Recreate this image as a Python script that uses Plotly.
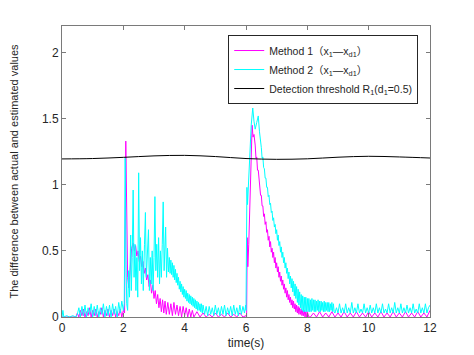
import plotly.graph_objects as go

# ---------------- data ----------------
# Method 1 (magenta): (time s, value)
M1_QUIET = [(0, 0), (0.45, 0), (0.5, 0.03), (0.55, 0), (0.6, 0.05), (0.65, 0.01), (0.7, 0.06),
            (0.75, 0), (0.8, 0.04), (0.85, 0.01), (0.9, 0.07), (0.95, 0), (1.0, 0.05), (1.05, 0.01),
            (1.1, 0.06), (1.15, 0), (1.2, 0.04), (1.25, 0.02), (1.3, 0.07), (1.35, 0), (1.4, 0.05),
            (1.45, 0.01), (1.5, 0.06), (1.55, 0), (1.6, 0.05), (1.65, 0.01), (1.7, 0.06), (1.75, 0),
            (1.8, 0.04), (1.85, 0.01), (1.9, 0.06), (1.95, 0), (2.0, 0.05)]
M1_FAULT1 = [(2.04, 0.03), (2.08, 1.33), (2.11, 0.7), (2.14, 0.3), (2.18, 0.22), (2.22, 0.4),
             (2.27, 0.52), (2.32, 0.56), (2.36, 0.5), (2.4, 0.54), (2.44, 0.46), (2.48, 0.5),
             (2.52, 0.42), (2.56, 0.46), (2.6, 0.38), (2.64, 0.42), (2.68, 0.33), (2.72, 0.37),
             (2.76, 0.28), (2.8, 0.32), (2.84, 0.23), (2.88, 0.28), (2.92, 0.18), (2.96, 0.24),
             (3.0, 0.14), (3.04, 0.2), (3.08, 0.1), (3.12, 0.17), (3.16, 0.07), (3.2, 0.14),
             (3.24, 0.04), (3.28, 0.13), (3.32, 0.03), (3.36, 0.12), (3.4, 0.02), (3.45, 0.11),
             (3.5, 0.02), (3.55, 0.1), (3.6, 0.01), (3.65, 0.11), (3.7, 0.02), (3.75, 0.09),
             (3.8, 0.01), (3.85, 0.08), (3.9, 0), (3.95, 0.08), (4.0, 0.01), (4.05, 0.07),
             (4.1, 0), (4.15, 0.06), (4.2, 0), (4.25, 0.05), (4.3, 0), (4.4, 0.04), (4.5, 0),
             (4.6, 0.03), (4.7, 0), (4.8, 0.02), (4.9, 0), (5.0, 0.03), (5.1, 0), (5.2, 0.02),
             (5.3, 0), (5.4, 0.03), (5.5, 0), (5.6, 0.02), (5.7, 0), (5.8, 0.03), (5.9, 0), (6.0, 0.01)]
M1_FAULT2 = [(6.02, 0), (6.04, 0.6), (6.06, 0.38), (6.09, 0.55), (6.13, 0.95), (6.17, 1.3),
             (6.2, 1.45), (6.23, 1.36), (6.26, 1.38), (6.3, 1.3), (6.325, 1.2),
             (6.35, 1.21), (6.375, 1.11), (6.4, 1.11), (6.425, 1.02), (6.45, 1.01), (6.475, 0.92),
             (6.5, 0.92), (6.525, 0.84), (6.55, 0.84), (6.575, 0.76), (6.6, 0.78), (6.625, 0.7),
             (6.65, 0.72), (6.675, 0.64), (6.7, 0.66), (6.725, 0.58), (6.75, 0.61), (6.775, 0.53),
             (6.8, 0.57), (6.825, 0.49), (6.85, 0.52), (6.875, 0.45), (6.9, 0.49), (6.925, 0.41),
             (6.95, 0.45), (6.975, 0.37), (7.0, 0.41), (7.025, 0.34), (7.05, 0.38), (7.075, 0.3),
             (7.1, 0.34), (7.125, 0.27), (7.15, 0.31), (7.175, 0.24), (7.2, 0.28), (7.225, 0.21),
             (7.25, 0.25), (7.275, 0.18), (7.3, 0.22), (7.325, 0.15), (7.35, 0.2), (7.375, 0.13),
             (7.4, 0.17), (7.425, 0.11), (7.45, 0.15), (7.475, 0.09), (7.5, 0.13), (7.525, 0.07),
             (7.55, 0.12), (7.575, 0.06), (7.6, 0.1), (7.625, 0.04), (7.65, 0.09), (7.675, 0.03),
             (7.7, 0.08), (7.725, 0.02), (7.75, 0.07), (7.775, 0.02), (7.8, 0.06), (7.825, 0.01),
             (7.85, 0.05), (7.875, 0.01), (7.9, 0.05), (7.925, 0), (7.95, 0.04), (7.975, 0),
             (8.0, 0.04), (8.05, 0)]
M1_TAIL = [(8.1, 0), (8.2, 0.03), (8.3, 0), (8.4, 0.04), (8.5, 0), (8.6, 0.03), (8.7, 0), (8.8, 0.04),
           (8.9, 0), (9.0, 0.03), (9.1, 0), (9.2, 0.04), (9.3, 0), (9.4, 0.03), (9.5, 0), (9.6, 0.04),
           (9.7, 0), (9.8, 0.03), (9.9, 0), (10.0, 0.04), (10.1, 0), (10.2, 0.03), (10.3, 0),
           (10.4, 0.04), (10.5, 0), (10.6, 0.03), (10.7, 0), (10.8, 0.04), (10.9, 0), (11.0, 0.03),
           (11.1, 0), (11.2, 0.04), (11.3, 0), (11.4, 0.03), (11.5, 0), (11.6, 0.04), (11.7, 0),
           (11.8, 0.03), (11.9, 0), (12.0, 0.05)]

# Method 2 (cyan): (time s, value)
M2_QUIET = [(0, 0), (0.03, 0.05), (0.06, 0), (0.15, 0.01), (0.25, 0), (0.35, 0.01), (0.45, 0),
            (0.5, 0.02), (0.55, 0.07), (0.6, 0), (0.65, 0.08), (0.7, 0.01), (0.75, 0.09), (0.8, 0),
            (0.85, 0.07), (0.9, 0.02), (0.95, 0.1), (1.0, 0), (1.05, 0.08), (1.1, 0.01), (1.15, 0.09),
            (1.2, 0), (1.25, 0.07), (1.3, 0.02), (1.35, 0.1), (1.4, 0), (1.45, 0.08), (1.5, 0.01),
            (1.55, 0.09), (1.6, 0), (1.65, 0.1), (1.7, 0.02), (1.75, 0.08), (1.8, 0), (1.85, 0.11),
            (1.9, 0.03), (1.95, 0.12), (2.0, 0.05), (2.03, 0.1)]
M2_FAULT1 = [(2.06, 1.2), (2.09, 0.4), (2.11, 0.1), (2.14, 0.05), (2.17, 0.35), (2.2, 0.15),
             (2.24, 0.62), (2.26, 0.2), (2.29, 0.45), (2.32, 0.96), (2.35, 0.3), (2.38, 0.55),
             (2.41, 0.2), (2.44, 0.45), (2.47, 0.15), (2.5, 1.09), (2.53, 0.35), (2.56, 0.6),
             (2.59, 0.25), (2.62, 0.5), (2.65, 0.2), (2.69, 0.55), (2.72, 0.79), (2.75, 0.3),
             (2.78, 0.5), (2.82, 0.66), (2.85, 0.2), (2.88, 0.45), (2.91, 0.25), (2.94, 0.5),
             (2.97, 0.2), (3.0, 0.45), (3.03, 0.91), (3.06, 0.35), (3.09, 0.55), (3.12, 0.3),
             (3.15, 0.6), (3.18, 0.25), (3.21, 0.5), (3.24, 0.3), (3.27, 0.55), (3.3, 0.87),
             (3.33, 0.35), (3.36, 0.55), (3.38, 0.68), (3.41, 0.3), (3.44, 0.52), (3.47, 0.34),
             (3.5, 0.45), (3.525, 0.33), (3.55, 0.43), (3.575, 0.32), (3.6, 0.41), (3.625, 0.3),
             (3.65, 0.39), (3.675, 0.28), (3.7, 0.36), (3.725, 0.26), (3.75, 0.33), (3.775, 0.24),
             (3.8, 0.3), (3.825, 0.21), (3.85, 0.27), (3.875, 0.19), (3.9, 0.25), (3.925, 0.17),
             (3.95, 0.23), (3.975, 0.15), (4.0, 0.21), (4.025, 0.14), (4.05, 0.2), (4.075, 0.12),
             (4.1, 0.18), (4.125, 0.11), (4.15, 0.17), (4.175, 0.1), (4.2, 0.16), (4.225, 0.09),
             (4.25, 0.15), (4.275, 0.08), (4.3, 0.14), (4.325, 0.07), (4.35, 0.13), (4.375, 0.06),
             (4.4, 0.12), (4.425, 0.05), (4.45, 0.11), (4.475, 0.05), (4.5, 0.1), (4.525, 0.04),
             (4.55, 0.1), (4.575, 0.03), (4.6, 0.09), (4.65, 0.02), (4.7, 0.08), (4.75, 0.01),
             (4.8, 0.08), (4.85, 0.02), (4.9, 0.07), (4.95, 0.01), (5.0, 0.09), (5.05, 0.02),
             (5.1, 0.07), (5.15, 0.01), (5.2, 0.08), (5.25, 0.02), (5.3, 0.09), (5.35, 0.01),
             (5.4, 0.07), (5.45, 0.02), (5.5, 0.08), (5.55, 0.01), (5.6, 0.09), (5.65, 0.02),
             (5.7, 0.07), (5.75, 0.01), (5.8, 0.09), (5.85, 0.02), (5.9, 0.08), (5.95, 0.03),
             (5.99, 0.09)]
M2_FAULT2 = [(6.0, 0.05), (6.01, 0.6), (6.03, 0.98), (6.05, 0.85), (6.08, 1.05), (6.12, 1.2),
             (6.17, 1.45), (6.22, 1.58), (6.26, 1.48), (6.3, 1.42), (6.35, 1.47), (6.4, 1.52),
             (6.44, 1.4), (6.47, 1.3),
             (6.5, 1.28), (6.525, 1.2), (6.55, 1.21), (6.575, 1.13), (6.6, 1.12), (6.625, 1.05),
             (6.65, 1.05), (6.675, 0.98), (6.7, 0.98), (6.725, 0.91), (6.75, 0.92), (6.775, 0.85),
             (6.8, 0.86), (6.825, 0.79), (6.85, 0.8), (6.875, 0.73), (6.9, 0.75), (6.925, 0.68),
             (6.95, 0.7), (6.975, 0.63), (7.0, 0.66), (7.025, 0.58), (7.05, 0.62), (7.075, 0.54),
             (7.1, 0.57), (7.125, 0.49), (7.15, 0.53), (7.175, 0.45), (7.2, 0.49), (7.225, 0.41),
             (7.25, 0.45), (7.275, 0.37), (7.3, 0.41), (7.325, 0.33), (7.35, 0.37), (7.375, 0.29),
             (7.4, 0.34), (7.425, 0.25), (7.45, 0.31), (7.475, 0.22), (7.5, 0.29), (7.525, 0.19),
             (7.55, 0.27), (7.575, 0.16), (7.6, 0.25), (7.625, 0.14), (7.65, 0.23), (7.675, 0.11),
             (7.7, 0.21), (7.725, 0.09), (7.75, 0.19), (7.775, 0.07), (7.8, 0.17), (7.825, 0.05),
             (7.85, 0.16), (7.875, 0.04), (7.9, 0.15), (7.925, 0.04), (7.95, 0.15), (7.975, 0.04),
             (8.0, 0.14), (8.025, 0.04), (8.05, 0.14), (8.075, 0.04), (8.1, 0.13), (8.125, 0.04),
             (8.15, 0.14), (8.175, 0.05), (8.2, 0.13), (8.225, 0.04), (8.25, 0.13), (8.275, 0.04),
             (8.3, 0.12), (8.325, 0.05), (8.35, 0.13), (8.375, 0.04), (8.4, 0.12), (8.425, 0.04),
             (8.45, 0.12), (8.475, 0.05), (8.5, 0.11), (8.525, 0.04), (8.55, 0.12), (8.575, 0.04),
             (8.6, 0.11), (8.625, 0.05), (8.65, 0.11), (8.675, 0.04), (8.7, 0.11), (8.725, 0.04),
             (8.75, 0.1), (8.775, 0.05), (8.8, 0.11), (8.825, 0.04), (8.85, 0.1), (8.875, 0.04)]
M2_TAIL = [(8.9, 0.03), (8.95, 0.07), (9.0, 0.03), (9.05, 0.1), (9.1, 0.03), (9.15, 0.07),
           (9.2, 0.03), (9.25, 0.1), (9.3, 0.03), (9.35, 0.07), (9.4, 0.03), (9.45, 0.11),
           (9.5, 0.03), (9.55, 0.07), (9.6, 0.03), (9.65, 0.1), (9.7, 0.03), (9.75, 0.06),
           (9.8, 0.03), (9.85, 0.1), (9.9, 0.03), (9.95, 0.07), (10.0, 0.03), (10.05, 0.09),
           (10.1, 0.03), (10.15, 0.07), (10.2, 0.03), (10.25, 0.1), (10.3, 0.03), (10.35, 0.07),
           (10.4, 0.03), (10.45, 0.1), (10.5, 0.03), (10.55, 0.06), (10.6, 0.03), (10.65, 0.1),
           (10.7, 0.03), (10.75, 0.07), (10.8, 0.03), (10.85, 0.11), (10.9, 0.03), (10.95, 0.07),
           (11.0, 0.03), (11.05, 0.1), (11.1, 0.03), (11.15, 0.07), (11.2, 0.03), (11.25, 0.09),
           (11.3, 0.03), (11.35, 0.07), (11.4, 0.03), (11.45, 0.1), (11.5, 0.03), (11.55, 0.06),
           (11.6, 0.03), (11.65, 0.1), (11.7, 0.03), (11.75, 0.07), (11.8, 0.03), (11.85, 0.1),
           (11.9, 0.03), (11.95, 0.07), (12.0, 0.09)]

# Detection threshold R1 (black)
TH_T = [0, 1, 2, 3, 4, 5, 6, 7, 8, 9, 10, 11, 12]
TH_V = [1.195, 1.198, 1.207, 1.218, 1.222, 1.213, 1.198, 1.192, 1.196, 1.208, 1.215, 1.21, 1.202]

X_TICKS = [0, 2, 4, 6, 8, 10, 12]
Y_TICKS = [0, 0.5, 1, 1.5, 2]
Y_TICK_TEXT = ["0", "0.5", "1", "1.5", "2"]

NAME_M1 = "Method 1（x<sub>1</sub>—x<sub>d1</sub>）"
NAME_M2 = "Method 2（x<sub>1</sub>—x<sub>d1</sub>）"
NAME_TH = "Detection threshold R<sub>1</sub>(d<sub>1</sub>=0.5)"
X_TITLE = "time(s)"
Y_TITLE = "The difference between actual and estimated values"

# ---------------- build ----------------
def unzip(*segs):
    pts = [p for s in segs for p in s]
    return [p[0] for p in pts], [p[1] for p in pts]

m1_t, m1_v = unzip(M1_QUIET, M1_FAULT1, M1_FAULT2, M1_TAIL)
m2_t, m2_v = unzip(M2_QUIET, M2_FAULT1, M2_FAULT2, M2_TAIL)

FONT = "Liberation Sans, Arial, Noto Sans CJK SC, sans-serif"
AX = "#7a7a7a"
TXT = "#262626"

fig = go.Figure()
fig.add_trace(go.Scatter(x=m1_t, y=m1_v, mode="lines", name=NAME_M1,
                         line=dict(color="#ff00ff", width=1)))
fig.add_trace(go.Scatter(x=m2_t, y=m2_v, mode="lines", name=NAME_M2,
                         line=dict(color="#00ffff", width=1)))
fig.add_trace(go.Scatter(x=TH_T, y=TH_V, mode="lines", name=NAME_TH,
                         line=dict(color="#000000", width=1, shape="spline")))

# the page body adds an 8 px offset, so the figure is 8 px smaller and margins shifted
fig.update_layout(
    width=466, height=347,
    margin=dict(l=54, r=44, t=18, b=38, autoexpand=False),
    paper_bgcolor="white", plot_bgcolor="white",
    font=dict(family=FONT, size=11, color=TXT),
    showlegend=True,
    legend=dict(x=0.968, y=0.969, xanchor="right", yanchor="top",
                bgcolor="white", bordercolor=TXT, borderwidth=1,
                font=dict(family=FONT, size=10.5, color=TXT),
                tracegroupgap=0, itemwidth=30),
    xaxis=dict(range=[0, 12], tickvals=X_TICKS, ticks="inside", ticklen=4,
               tickcolor=AX, showline=True, linecolor=AX, linewidth=1, mirror="ticks",
               showgrid=False, zeroline=False, automargin=False,
               tickfont=dict(family=FONT, size=12, color=TXT),
               title=dict(text=X_TITLE, font=dict(family=FONT, size=12, color=TXT), standoff=4)),
    yaxis=dict(range=[0, 2.2], tickvals=Y_TICKS, ticktext=Y_TICK_TEXT, ticks="inside", ticklen=4,
               tickcolor=AX, showline=True, linecolor=AX, linewidth=1, mirror="ticks",
               showgrid=False, zeroline=False, automargin=False,
               tickfont=dict(family=FONT, size=12, color=TXT),
               title=dict(text=Y_TITLE, font=dict(family=FONT, size=11, color=TXT), standoff=22)),
)

fig.write_html("out.html")
